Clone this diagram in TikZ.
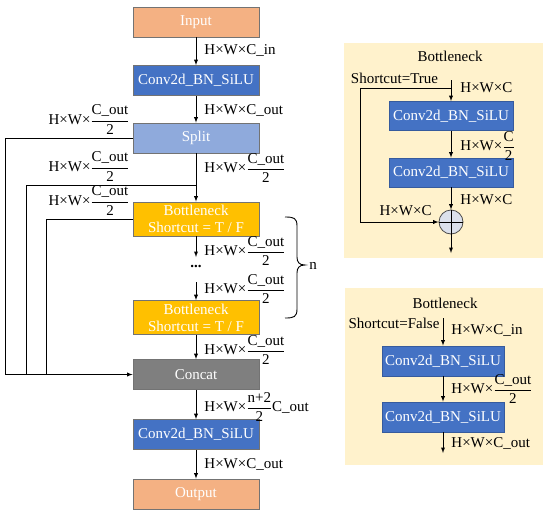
\documentclass[tikz,border=0pt]{standalone}
\usepackage{fontspec}
\usepackage{amsmath}
\setmainfont{Liberation Serif}
\usetikzlibrary{arrows,positioning,decorations.pathreplacing}
\definecolor{ioc}{HTML}{F4B183}
\definecolor{convc}{HTML}{4472C4}
\definecolor{splitc}{HTML}{8FAADC}
\definecolor{bneckc}{HTML}{FFC000}
\definecolor{catc}{HTML}{7F7F7F}
\definecolor{panelc}{HTML}{FFF2CC}
\definecolor{addc}{HTML}{DCE1EC}
\newcommand{\lfs}{\fontsize{15}{17}\selectfont}
\newcommand{\frc}[2]{$\dfrac{\text{#1}}{\text{#2}}$}
\tikzset{
  basic/.style  = {draw=black!55, line width=0.8pt, font=\lfs, text=white,
                   minimum width=126pt, minimum height=30pt, inner sep=1pt, align=center},
  io/.style     = {basic, fill=ioc},
  conv/.style   = {basic, fill=convc},
  split/.style  = {basic, fill=splitc},
  bneck/.style  = {basic, fill=bneckc, minimum height=34pt},
  concat/.style = {basic, fill=catc},
  sconv/.style  = {basic, fill=convc, draw=convc!80!black, minimum width=124pt, minimum height=29pt},
  panel/.style  = {fill=panelc, inner sep=0pt},
  lbl/.style    = {font=\lfs, inner sep=1pt, anchor=west},
  llbl/.style   = {font=\lfs, inner sep=1pt, anchor=south east},
  addop/.style  = {circle, draw=black!70, line width=0.8pt, fill=addc, minimum size=24pt, inner sep=0pt}
}

\begin{document}
\begin{tikzpicture}[x=1pt, y=-1pt, >=latex, line width=0.9pt]
\useasboundingbox (0,0) rectangle (550,512);

% main column
\node[io]     (in)    at (196,22)    {Input};
\node[conv]   (conv1) at (196,80.5)  {Conv2d\_BN\_SiLU};
\node[split]  (split) at (196,138)   {Split};
\node[bneck]  (bn1)   at (196,219)   {Bottleneck\\Shortcut = T / F};
\node         (dots)  at (196,266)   {\lfs\textbf{...}};
\node[bneck]  (bn2)   at (196,317.5) {Bottleneck\\Shortcut = T / F};
\node[concat] (cat)   at (196,374.5) {Concat};
\node[conv]   (conv2) at (196,434.5) {Conv2d\_BN\_SiLU};
\node[io]     (out)   at (196,494)   {Output};

\coordinate (j)    at (196,185);
\coordinate (dotA) at (196,257);
\coordinate (dotB) at (196,282);
\coordinate (l1)   at (5,138);
\coordinate (l2)   at (26,185);
\coordinate (l3)   at (46,219);

\draw[->] (in) -- (conv1);
\draw[->] (conv1) -- (split);
\draw[->] (split) -- (bn1);
\draw[->] (bn1) -- (dotA);
\draw[->] (dotB) -- (bn2);
\draw[->] (bn2) -- (cat);
\draw[->] (cat) -- (conv2);
\draw[->] (conv2) -- (out);

% side paths into concat
\draw[->] (split.west) -- (l1) |- (cat.west);
\draw (j) -- (l2) -- (l2 |- cat.west);
\draw (bn1.west) -- (l3) -- (l3 |- cat.west);

% labels
\node[lbl] (s1) at (203,50)  {H×W×C\_in};
\node[lbl] (s2) at (203,110) {H×W×C\_out};
\node[lbl] (s3) at (203,168) {H×W×\frc{C\_out}{2}};
\node[lbl] (s4) at (203,251) {H×W×\frc{C\_out}{2}};
\node[lbl] (s5) at (203,289) {H×W×\frc{C\_out}{2}};
\node[lbl] (s6) at (203,350) {H×W×\frc{C\_out}{2}};
\node[lbl] (s7) at (203,407) {H×W×\frc{n+2}{2}C\_out};
\node[lbl] (s8) at (203,464) {H×W×C\_out};
\node[llbl] (b1) at (131,136) {H×W×\frc{C\_out}{2}};
\node[llbl] (b2) at (131,183) {H×W×\frc{C\_out}{2}};
\node[llbl] (b3) at (131,217) {H×W×\frc{C\_out}{2}};

% brace over the n bottlenecks
\draw (285,217) .. controls (294,217) and (297,218) .. (297,226) -- (297,257)
  .. controls (297,262) and (299,265) .. (305,265)
  .. controls (299,265) and (297,268) .. (297,273) -- (297,309)
  .. controls (297,317) and (294,318) .. (285,318);
\node[font=\lfs] (n) at (313,266) {n};

% bottleneck, shortcut true
\node[panel, minimum width=199pt, minimum height=215pt] (pT) at (443.5,150.5) {};
\node[font=\lfs] (tT) at (450,56) {Bottleneck};
\node[font=\lfs] (sT) at (394.5,78) {Shortcut=True};
\node[sconv] (cT1) at (451,116)   {Conv2d\_BN\_SiLU};
\node[sconv] (cT2) at (451,172.5) {Conv2d\_BN\_SiLU};
\node[addop] (addT) at (451,222) {};
\draw[line width=0.8pt] (addT.north) -- (addT.south) (addT.west) -- (addT.east);
\coordinate (aT) at (451,80);
\coordinate (hT) at (451,88);
\coordinate (lT) at (360,88);
\coordinate (eT) at (451,253);
\draw[->] (aT) -- (cT1);
\draw[->] (hT) -- (lT) |- (addT.west);
\draw[->] (cT1) -- (cT2);
\draw[->] (cT2) -- (addT);
\draw[->] (addT) -- (eT);
\node[lbl] (t1) at (459,88)  {H×W×C};
\node[lbl] (t2) at (459,146) {H×W×\frc{C}{2}};
\node[lbl] (t3) at (459,200) {H×W×C};
\node[lbl, anchor=east] (t4) at (433,211) {H×W×C};

% bottleneck, shortcut false
\node[panel, minimum width=198pt, minimum height=177pt] (pF) at (444,376.5) {};
\node[font=\lfs] (tF) at (445,303) {Bottleneck};
\node[font=\lfs] (sF) at (394,323) {Shortcut=False};
\node[sconv, minimum width=122pt, minimum height=30pt] (cF1) at (443,361) {Conv2d\_BN\_SiLU};
\node[sconv, minimum width=122pt, minimum height=30pt] (cF2) at (443,417) {Conv2d\_BN\_SiLU};
\coordinate (aF) at (443,318);
\coordinate (eF) at (443,453);
\draw[->] (aF) -- (cF1);
\draw[->] (cF1) -- (cF2);
\draw[->] (cF2) -- (eF);
\node[lbl] (f1) at (450,330) {H×W×C\_in};
\node[lbl] (f2) at (450,389) {H×W×\frc{C\_out}{2}};
\node[lbl] (f3) at (450,443) {H×W×C\_out};
\end{tikzpicture}
\end{document}
